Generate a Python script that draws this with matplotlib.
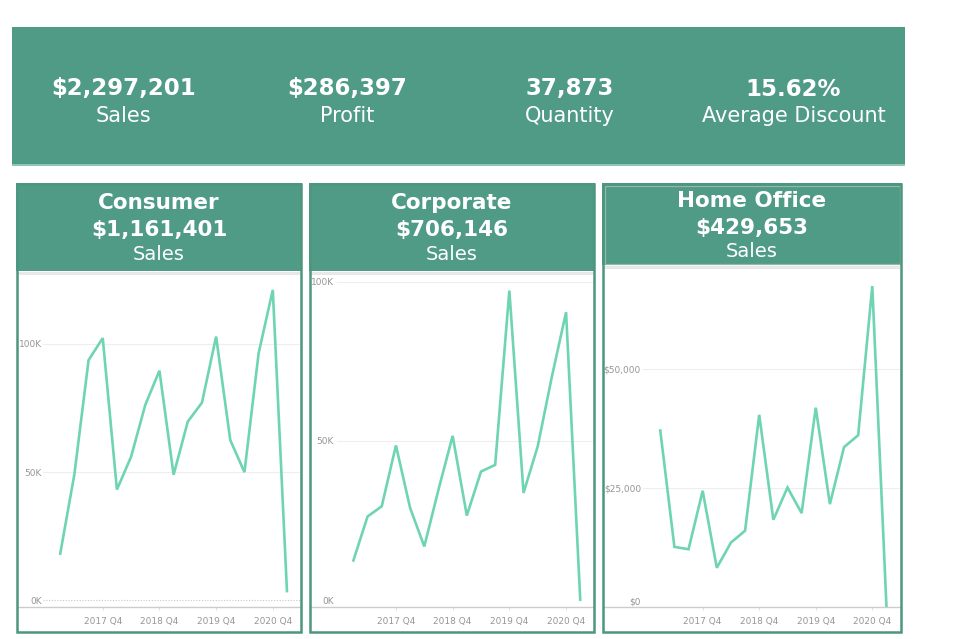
import matplotlib
matplotlib.use('Agg')
import matplotlib.pyplot as plt
from matplotlib.patches import Rectangle

# KPI values
kpi_values = ['$2,297,201', '$286,397', '37,873', '15.62%']
kpi_labels = ['Sales', 'Profit', 'Quantity', 'Average Discount']

# quarters 2017 Q1 .. 2021 Q1
quarters = ['2017 Q1', '2017 Q2', '2017 Q3', '2017 Q4',
            '2018 Q1', '2018 Q2', '2018 Q3', '2018 Q4',
            '2019 Q1', '2019 Q2', '2019 Q3', '2019 Q4',
            '2020 Q1', '2020 Q2', '2020 Q3', '2020 Q4',
            '2021 Q1']
tick_quarters = ['2017 Q4', '2018 Q4', '2019 Q4', '2020 Q4']

segments = ['Consumer', 'Corporate', 'Home Office']
segment_totals = ['$1,161,401', '$706,146', '$429,653']

consumer_sales = [18200, 49200, 93700, 102300, 43200, 56000, 76200, 89600,
                  49000, 69700, 77100, 102900, 62500, 50000, 96400, 121100, 3600]
corporate_sales = [12500, 26300, 29500, 48600, 29000, 16900, 34700, 51600,
                   26600, 40400, 42500, 97200, 33700, 48300, 70200, 90400, 200]
home_office_sales = [37100, 12600, 12100, 24400, 8200, 13500, 16000, 40400,
                     18300, 25100, 19700, 41900, 21600, 33600, 36100, 67500, 100]

consumer_ticks = [0, 50000, 100000]
consumer_tick_labels = ['0K', '50K', '100K']
corporate_ticks = [0, 50000, 100000]
corporate_tick_labels = ['0K', '50K', '100K']
home_ticks = [0, 25000, 50000]
home_tick_labels = ['$0', '$25,000', '$50,000']

W, H = 960, 639
GREEN = '#4f9b86'
BORDER = '#4c967f'
LINE = '#6fd4b4'

fig = plt.figure(figsize=(W / 100, H / 100), dpi=100)
fig.patch.set_facecolor('white')


def rect_px(x0, y0, x1, y1, **kw):
    r = Rectangle((x0 / W, 1 - y1 / H), (x1 - x0) / W, (y1 - y0) / H,
                  transform=fig.transFigure, **kw)
    fig.add_artist(r)
    return r


def text_px(x, y, s, **kw):
    fig.text(x / W, 1 - y / H, s, ha='center', va='center', color='white', **kw)


# KPI banner
rect_px(12, 27, 905, 165, facecolor=GREEN, edgecolor='none')
rect_px(12, 164, 905, 165.5, facecolor='#8cc6b5', edgecolor='none')
col_w = (905 - 12) / 4
for i in range(4):
    cx = 12 + col_w * (i + 0.5)
    text_px(cx, 89, kpi_values[i], fontsize=16.5, fontweight='bold')
    text_px(cx, 116, kpi_labels[i], fontsize=15)

# panel layout (pixels)
panels = [
    dict(box=(16, 183, 302, 633), head_bottom=271, ax=(18, 274, 300, 607),
         xlim=(-2.98, 16.92), ylim=(-2600, 127300), pad=17, grid_from=43,
         data=consumer_sales, ticks=consumer_ticks, labels=consumer_tick_labels,
         ty=(203, 230, 255), zero_dotted=True),
    dict(box=(309, 183, 595, 633), head_bottom=271, ax=(311, 274, 593, 607),
         xlim=(-2.99, 16.9), ylim=(-2100, 102400), pad=16.6, grid_from=337,
         data=corporate_sales, ticks=corporate_ticks, labels=corporate_tick_labels,
         ty=(203, 230, 255), zero_dotted=False),
    dict(box=(602, 183, 902, 633), head_bottom=265, ax=(604, 269, 900, 607),
         xlim=(-3.98, 16.96), ylim=(-60, 71100), pad=26.6, grid_from=643,
         data=home_office_sales, ticks=home_ticks, labels=home_tick_labels,
         ty=(201, 228, 252), zero_dotted=False),
]

x_idx = list(range(len(quarters)))
tick_pos = [quarters.index(q) for q in tick_quarters]

for i, p in enumerate(panels):
    bx0, by0, bx1, by1 = p['box']
    # header
    rect_px(bx0, by0, bx1, p['head_bottom'], facecolor=GREEN, edgecolor='none')
    if i == 2:
        rect_px(bx0 + 2.5, by0 + 2.5, bx1 - 2.5, p['head_bottom'] - 1,
                facecolor='none', edgecolor='#93b9ae', lw=0.9)
    # light separator under header
    rect_px(bx0 + 2, p['head_bottom'] + 1, bx1 - 2, p['head_bottom'] + 3.5,
            facecolor='#e8e8e8', edgecolor='none', zorder=3)

    text_px((bx0 + bx1) / 2, p['ty'][0], segments[i], fontsize=15.5, fontweight='bold')
    text_px((bx0 + bx1) / 2, p['ty'][1], segment_totals[i], fontsize=15.5, fontweight='bold')
    text_px((bx0 + bx1) / 2, p['ty'][2], 'Sales', fontsize=14)

    ax0, ay0, ax1, ay1 = p['ax']
    ax = fig.add_axes([ax0 / W, 1 - ay1 / H, (ax1 - ax0) / W, (ay1 - ay0) / H])
    ax.set_facecolor('none')
    ax.plot(x_idx, p['data'], color=LINE, lw=1.9, solid_joinstyle='miter', zorder=3)
    ax.set_xlim(*p['xlim'])
    ax.set_ylim(*p['ylim'])

    frac = (p['grid_from'] - ax0) / (ax1 - ax0)
    for v in p['ticks']:
        if v == 0:
            if p['zero_dotted']:
                ax.axhline(v, xmin=frac, color='#c8c8c8', lw=0.8, ls=(0, (1, 1.5)), zorder=1)
            continue
        ax.axhline(v, xmin=frac, color='#eeeeee', lw=0.8, zorder=1)

    for s in ['top', 'right', 'left']:
        ax.spines[s].set_visible(False)
    ax.spines['bottom'].set_color('#cccccc')
    ax.spines['bottom'].set_linewidth(1.0)

    ax.set_yticks(p['ticks'])
    ax.set_yticklabels(p['labels'])
    ax.tick_params(axis='y', length=0, pad=-p['pad'], labelsize=6.5, labelcolor='#969696')
    if i == 2:
        ax.get_yticklabels()[0].set_va('bottom')

    ax.set_xticks(tick_pos)
    ax.set_xticklabels(tick_quarters)
    ax.tick_params(axis='x', length=2.5, width=0.6, color='#dddddd', pad=4.5,
                   labelsize=6.5, labelcolor='#969696')

    # panel border
    rect_px(bx0 + 1.2, by0 + 1.2, bx1 - 1.2, by1 - 1.2, facecolor='none', edgecolor=BORDER,
            lw=1.8, zorder=5)

fig.savefig('out.png', dpi=100, facecolor='white')
